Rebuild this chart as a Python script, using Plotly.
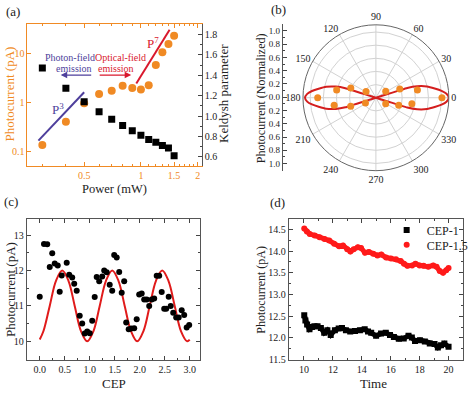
import numpy as np
import plotly.graph_objects as go

W, H = 474, 395
def PX(x): return x / W
def PY(y): return 1 - y / H

FONT = "Liberation Serif, Times New Roman, serif"
ORANGE = "#F08A24"
PURPLE = "#4E3F9C"
CRIMSON = "#D9182D"
RED = "#FF1A1A"

# ---------------- (a) data ----------------
power_mw = [0.3, 0.4, 0.5, 0.6, 0.7, 0.8, 0.9, 1.0, 1.1, 1.2, 1.3, 1.4, 1.5]
photocurrent_pa = [0.134, 0.40, 0.95, 1.47, 1.71, 2.16, 1.94, 1.82, 2.2, 5.7, 10.4, 15.4, 22.6]
keldysh = [1.472, 1.273, 1.14, 1.043, 0.968, 0.906, 0.854, 0.812, 0.770, 0.743, 0.711, 0.685, 0.61]
p3_x = [0.286, 0.5]
p3_y = [0.164, 1.59]
p7_x = [0.945, 1.42]
p7_y = [2.41, 29.9]
threshold_mw = 0.57

# ---------------- (b) data ----------------
pol_theta = [0, 10.7, 20.3, 33.8, -9.3, -18.3, -31, 180, 168.7, 158.7, 147.8, 190.3, 198.7, 206.5]
pol_r = [1.005, 0.643, 0.387, 0.18, 0.555, 0.366, 0.174, 0.886, 0.609, 0.41, 0.177, 0.646, 0.405, 0.178]
fit_theta = [17.4, 17.4, 17.4, 17.4, 17.4, 15.6, 12.5, 9.0, 6.0, 3.2, 0.0,
             -3.2, -6.0, -9.0, -12.5, -15.6, -17.4, -17.4, -17.4, -17.4, -17.4,
             162.6, 162.6, 162.6, 162.6, 164.4, 167.5, 171.0, 174.0, 176.8, 180.0,
             183.2, 186.0, 189.0, 192.5, 195.6, 197.4, 197.4, 197.4, 197.4, 197.4]
fit_r = [0, 0.125, 0.25, 0.375, 0.5, 0.651, 0.795, 0.906, 1.005, 1.076, 1.109,
         1.076, 1.005, 0.906, 0.795, 0.651, 0.5, 0.375, 0.25, 0.125, 0,
         0.122, 0.243, 0.365, 0.487, 0.633, 0.774, 0.882, 0.978, 1.047, 1.079,
         1.047, 0.978, 0.882, 0.774, 0.633, 0.487, 0.365, 0.243, 0.122, 0]
angle_ticks = [0, 30, 60, 90, 120, 150, 180, 210, 240, 270, 300, 330]
norm_ticks = [-1.0, -0.8, -0.6, -0.4, -0.2, 0.0, 0.2, 0.4, 0.6, 0.8, 1.0]

# ---------------- (c) data ----------------
cep = [0.0, 0.085, 0.15, 0.2, 0.25, 0.3, 0.36, 0.4, 0.44, 0.54, 0.59, 0.65, 0.69, 0.74,
       0.8, 0.85, 0.9, 0.95, 1.0, 1.05, 1.1, 1.14, 1.19, 1.25, 1.29, 1.34, 1.4, 1.45,
       1.49, 1.54, 1.59, 1.64, 1.69, 1.73, 1.78, 1.83, 1.89, 1.94, 1.99, 2.04, 2.09,
       2.14, 2.19, 2.24, 2.29, 2.34, 2.39, 2.44, 2.49, 2.53, 2.58, 2.62, 2.67, 2.73,
       2.78, 2.84, 2.89, 2.94, 2.99]
cep_current = [11.26, 12.75, 12.74, 12.1, 12.49, 12.2, 12.14, 11.4, 11.86, 12.22, 11.88,
               11.8, 11.63, 11.43, 10.72, 10.5, 10.22, 10.28, 10.23, 10.58, 11.25, 11.82,
               11.7, 11.83, 12.0, 11.95, 11.6, 11.43, 12.44, 12.37, 11.96, 11.37, 11.7,
               10.53, 10.34, 10.36, 10.37, 10.62, 11.32, 11.35, 11.18, 11.18, 11.0, 11.18,
               11.21, 11.85, 11.85, 11.39, 10.92, 10.92, 11.26, 11.0, 10.81, 10.67, 10.67,
               10.88, 10.74, 10.39, 10.46]
fit_cep = [0, 0.075, 0.2, 0.325, 0.45, 0.575, 0.7, 0.825, 0.95, 1.075, 1.2, 1.325, 1.45,
           1.575, 1.7, 1.825, 1.95, 2.075, 2.2, 2.325, 2.45, 2.575, 2.7, 2.825, 2.95, 3.0]
fit_current = [10.05, 10.29, 11, 11.71, 12, 11.71, 11, 10.29, 10, 10.29, 11, 11.71, 12,
               11.71, 11, 10.29, 10, 10.29, 11, 11.71, 12, 11.71, 11, 10.29, 10, 10.05]

# ---------------- (d) data ----------------
t_cep15 = [10.02, 10.2, 10.4, 10.74, 11.08, 11.42, 11.75, 12.09, 12.43, 12.7, 12.99, 13.21,
           13.44, 13.73, 13.95, 14.22, 14.49, 14.79, 15.08, 15.35, 15.68, 16.02, 16.36,
           16.69, 16.92, 17.15, 17.48, 17.71, 18.0, 18.27, 18.6, 18.94, 19.17, 19.39,
           19.62, 19.84, 20.0]
i_cep15 = [14.52, 14.45, 14.39, 14.36, 14.32, 14.28, 14.24, 14.17, 14.11, 14.13, 14.04,
           13.99, 14.04, 14.09, 14.07, 13.96, 13.98, 13.94, 13.90, 13.92, 13.85, 13.83,
           13.81, 13.77, 13.71, 13.66, 13.67, 13.71, 13.67, 13.66, 13.64, 13.67, 13.64,
           13.54, 13.5, 13.56, 13.61]
t_cep1 = [10.02, 10.1, 10.22, 10.38, 10.56, 10.72, 10.94, 11.17, 11.4, 11.62, 11.85, 12.14,
          12.4, 12.63, 12.9, 13.2, 13.53, 13.87, 14.2, 14.43, 14.65, 14.99, 15.33, 15.66,
          15.95, 16.22, 16.56, 16.9, 17.23, 17.46, 17.68, 18.02, 18.36, 18.7, 19.03,
          19.26, 19.48, 19.71, 20.0]
i_cep1 = [12.52, 12.4, 12.31, 12.2, 12.25, 12.27, 12.27, 12.23, 12.12, 12.18, 12.07, 12.18,
          12.22, 12.23, 12.18, 12.15, 12.16, 12.18, 12.2, 12.15, 12.12, 12.05, 12.1, 12.12,
          12.07, 12.02, 11.98, 11.99, 12.05, 12.01, 11.93, 11.95, 11.92, 11.87, 11.86,
          11.78, 11.83, 11.87, 11.8]

fig = go.Figure()

# (a)
fig.add_trace(go.Scatter(x=power_mw, y=photocurrent_pa, mode="markers", xaxis="x", yaxis="y",
                         marker=dict(color=ORANGE, size=8), showlegend=False))
fig.add_trace(go.Scatter(x=p3_x, y=p3_y, mode="lines", xaxis="x", yaxis="y",
                         line=dict(color=PURPLE, width=2), showlegend=False))
fig.add_trace(go.Scatter(x=p7_x, y=p7_y, mode="lines", xaxis="x", yaxis="y",
                         line=dict(color=CRIMSON, width=2), showlegend=False))
fig.add_trace(go.Scatter(x=power_mw, y=keldysh, mode="markers", xaxis="x", yaxis="y2",
                         marker=dict(color="black", size=7, symbol="square"), showlegend=False))

# (b)
fig.add_trace(go.Scatterpolar(r=fit_r, theta=fit_theta, mode="lines",
                              line=dict(color="#D41E1E", width=2, shape="spline", smoothing=0.5),
                              showlegend=False))
fig.add_trace(go.Scatterpolar(r=pol_r, theta=pol_theta, mode="markers",
                              marker=dict(color=ORANGE, size=7), showlegend=False))
fig.add_trace(go.Scatter(x=[0, 0], y=[norm_ticks[0], norm_ticks[-1]], mode="markers",
                         xaxis="x5", yaxis="y5", marker=dict(opacity=0), hoverinfo="skip",
                         showlegend=False))

# (c)
fig.add_trace(go.Scatter(x=fit_cep, y=fit_current, mode="lines", xaxis="x3", yaxis="y3",
                         line=dict(color="#E01B1B", width=2, shape="spline", smoothing=1.0),
                         showlegend=False))
fig.add_trace(go.Scatter(x=cep, y=cep_current, mode="markers", xaxis="x3", yaxis="y3",
                         marker=dict(color="black", size=6), showlegend=False))

# (d)
fig.add_trace(go.Scatter(x=t_cep1, y=i_cep1, mode="lines", xaxis="x4", yaxis="y4",
                         line=dict(color="black", width=5), showlegend=False))
fig.add_trace(go.Scatter(x=t_cep1, y=i_cep1, mode="markers", xaxis="x4", yaxis="y4", name="CEP-1",
                         marker=dict(color="black", size=6, symbol="square"), legend="legend"))
fig.add_trace(go.Scatter(x=t_cep15, y=i_cep15, mode="lines", xaxis="x4", yaxis="y4",
                         line=dict(color=RED, width=5), showlegend=False))
fig.add_trace(go.Scatter(x=t_cep15, y=i_cep15, mode="markers", xaxis="x4", yaxis="y4", name="CEP-1.5",
                         marker=dict(color=RED, size=6, symbol="circle"), legend="legend2"))

tickcommon = dict(ticks="inside", ticklen=4, tickwidth=1, showline=True, linewidth=1,
                  linecolor="#555", showgrid=False, zeroline=False)

minor_log = [0.3, 0.4, 0.6, 0.7, 0.8, 0.9, 1.1, 1.2, 1.3, 1.4, 1.6, 1.7, 1.8, 1.9]

legend_common = dict(xanchor="left", yanchor="middle", bgcolor="rgba(0,0,0,0)",
                     font=dict(size=12, color="#222"), itemwidth=30, borderwidth=0)

fig.update_layout(
    width=W, height=H, autosize=False, margin=dict(l=0, r=0, t=0, b=0),
    paper_bgcolor="white", plot_bgcolor="white",
    font=dict(family=FONT, size=10, color="#222"),
    xaxis=dict(domain=[PX(28), PX(206)], anchor="y", type="log",
               range=[np.log10(0.25), np.log10(2.1)], tickmode="array",
               tickvals=[0.5, 1, 1.5, 2], ticktext=["0.5", "1", "1.5", "2"],
               tickfont=dict(color=ORANGE, size=10), mirror="ticks",
               minor=dict(tickvals=minor_log, ticks="inside", ticklen=2, tickcolor=ORANGE),
               **{**tickcommon, "linecolor": ORANGE}, tickcolor=ORANGE),
    yaxis=dict(domain=[PY(168), PY(24)], anchor="x", type="log", range=[-1.30, 1.6],
               tickmode="array", tickvals=[0.1, 1, 10], ticktext=["0.1", "1", "10"],
               tickfont=dict(color=ORANGE, size=10),
               **{**tickcommon, "linecolor": ORANGE}, tickcolor=ORANGE),
    yaxis2=dict(overlaying="y", side="right", anchor="x", range=[0.51, 1.907],
                tickmode="array", tickvals=[0.6, 0.8, 1.0, 1.2, 1.4, 1.6, 1.8], tickformat=".1f",
                tickfont=dict(size=10),
                minor=dict(dtick=0.1, tick0=0.5, ticks="inside", ticklen=2),
                **tickcommon),
    xaxis5=dict(domain=[PX(289), PX(289.5)], anchor="y5", visible=False, range=[0, 1]),
    yaxis5=dict(domain=[PY(173), PY(24)], anchor="x5", side="left", range=[-1.11, 1.11],
                tickmode="array", tickvals=norm_ticks,
                ticktext=["%.1f" % abs(v) for v in norm_ticks],
                minor=dict(dtick=0.1, tick0=0, ticks="inside", ticklen=2),
                tickfont=dict(size=9), **tickcommon),
    xaxis3=dict(domain=[PX(27.3), PX(204)], anchor="y3", range=[-0.26, 3.2],
                tickmode="array", tickvals=[0, 0.5, 1, 1.5, 2, 2.5, 3], tickformat=".1f",
                mirror="ticks", minor=dict(dtick=0.25, tick0=0, ticks="inside", ticklen=2),
                **tickcommon),
    yaxis3=dict(domain=[PY(364.3), PY(221.7)], anchor="x3", range=[9.48, 13.46],
                tickmode="array", tickvals=[10, 11, 12, 13], mirror="ticks",
                minor=dict(dtick=0.5, tick0=0, ticks="inside", ticklen=2),
                **tickcommon),
    xaxis4=dict(domain=[PX(295), PX(473)], anchor="y4", range=[8.95, 21.0],
                tickmode="array", tickvals=[10, 12, 14, 16, 18, 20], mirror="ticks",
                minor=dict(dtick=1, tick0=0, ticks="inside", ticklen=2),
                **tickcommon),
    yaxis4=dict(domain=[PY(364.3), PY(221.7)], anchor="x4", range=[11.5, 14.74],
                tickmode="array", tickvals=[11.5, 12.0, 12.5, 13.0, 13.5, 14.0, 14.5],
                tickformat=".1f", mirror="ticks",
                minor=dict(dtick=0.25, tick0=0, ticks="inside", ticklen=2),
                **tickcommon),
    polar=dict(
        domain=dict(x=[PX(309.5), PX(458.5)], y=[PY(173.5), PY(24.5)]),
        bgcolor="white",
        radialaxis=dict(range=[0, 1.11], showticklabels=False, ticks="", tick0=0, dtick=0.2,
                        gridcolor="#d2d2d2", showline=False),
        angularaxis=dict(rotation=0, direction="counterclockwise", tickmode="array",
                         tickvals=angle_ticks, ticktext=[str(a) for a in angle_ticks],
                         gridcolor="#d2d2d2", linecolor="#666", ticks="",
                         tickfont=dict(size=10)),
    ),
    legend=dict(x=PX(395), y=PY(233), **legend_common),
    legend2=dict(x=PX(395), y=PY(248), **legend_common),
)

# dashed threshold line in (a)
fig.add_shape(type="line", xref="x", yref="y domain", x0=np.log10(threshold_mw),
              x1=np.log10(threshold_mw), y0=0, y1=1,
              line=dict(color=ORANGE, width=1.5, dash="dash"))

ann = []
def text(x, y, s, size=11, color="#222", angle=0):
    ann.append(dict(x=PX(x), y=PY(y), xref="paper", yref="paper", text=s, showarrow=False,
                    font=dict(family=FONT, size=size, color=color), textangle=angle,
                    xanchor="center", yanchor="middle"))

def arrow(x0, y0, x1, y1, color):
    ann.append(dict(x=PX(x1), y=PY(y1), ax=x0 - x1, ay=y0 - y1, xref="paper", yref="paper",
                    axref="pixel", ayref="pixel", text="", showarrow=True, arrowhead=2,
                    arrowsize=1, arrowwidth=1.3, arrowcolor=color))

# panel labels
text(13, 12, "(a)", 13)
text(285, 10, "(b)", 13)
text(11, 204, "(c)", 13)
text(283, 205, "(d)", 13)

# (a) annotations
text(72, 58, "Photon-field", 10, PURPLE)
text(76, 69, "emission", 10, PURPLE)
arrow(94, 76, 62, 76, PURPLE)
text(123, 58, "Optical-field", 10, CRIMSON)
text(119, 69, "emission", 10, CRIMSON)
arrow(101, 76, 134, 76, CRIMSON)
text(59, 110, "P<sup>3</sup>", 13, PURPLE)
text(156, 44, "P<sup>7</sup>", 13, CRIMSON)

# axis titles
text(10, 95, "Photocurrent (pA)", 13, ORANGE, -90)
text(117, 191, "Power (mW)", 12.5)
text(229, 95, "Keldysh parameter", 13, "#222", -90)
text(266, 99, "Photocurrent (Normalized)", 12, "#222", -90)
text(11, 293, "Photocurrent (pA)", 13, "#222", -90)
text(116, 388, "CEP", 13)
text(267, 293, "Photocurrent (pA)", 12, "#222", -90)
text(382, 388, "Time", 13)

fig.update_layout(annotations=ann)
fig.write_html("out.html", config={"displayModeBar": False},
               post_script="document.body.style.margin='0';document.body.style.padding='0';")
